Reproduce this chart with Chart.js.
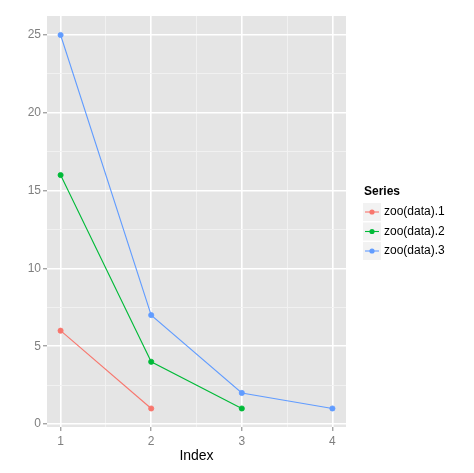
<!DOCTYPE html>
<html><head><meta charset="utf-8">
<script src="https://cdn.jsdelivr.net/npm/chart.js@4/dist/chart.umd.min.js"></script>
<style>html,body{margin:0;padding:0;background:#fff;}#wrap{width:474px;height:473px;}</style>
</head><body><div id="wrap"><canvas id="c" width="474" height="473"></canvas></div>
<script>
const index = [1, 2, 3, 4];
const seriesNames = ['zoo(data).1', 'zoo(data).2', 'zoo(data).3'];
const series1 = [6, 1, null, null];
const series2 = [16, 4, 1, null];
const series3 = [25, 7, 2, 1];
const seriesColors = ['#F8766D', '#00BA38', '#619CFF'];
const xTicks = [1, 2, 3, 4];
const yTicks = [0, 5, 10, 15, 20, 25];
const xTitle = 'Index';
const legendTitle = 'Series';

function withMinor(major) {
  const out = [];
  for (let i = 0; i < major.length; i++) {
    out.push(major[i]);
    if (i < major.length - 1) out.push((major[i] + major[i + 1]) / 2);
  }
  return out;
}
const isMajor = (list, v) => list.some(t => Math.abs(t - v) < 1e-9);

const FONT = '"Liberation Sans", Arial, sans-serif';
const allSeries = [series1, series2, series3];
const datasets = allSeries.map((s, k) => ({
  label: seriesNames[k],
  data: index.map((x, i) => ({x: x, y: s[i]})).filter(p => p.y !== null),
  borderColor: seriesColors[k],
  backgroundColor: seriesColors[k],
  pointBackgroundColor: seriesColors[k],
  pointBorderColor: seriesColors[k],
  borderWidth: 1.1,
  pointRadius: 2.6,
  pointBorderWidth: 0.8,
  tension: 0
}));

const panelBg = {
  id: 'panelBg',
  beforeDraw(chart) {
    const a = chart.chartArea, ctx = chart.ctx;
    ctx.save();
    ctx.fillStyle = '#E5E5E5';
    ctx.fillRect(a.left, a.top, a.right - a.left, a.bottom - a.top);
    ctx.restore();
  }
};

const ggLegend = {
  id: 'ggLegend',
  afterDraw(chart) {
    const ctx = chart.ctx;
    const x0 = 363, keyW = 18, keyH = 18;
    const titleY = 192;
    const rowY = [212, 231.5, 251];
    ctx.save();
    ctx.fillStyle = '#000';
    ctx.font = 'bold 12px ' + FONT;
    ctx.textBaseline = 'middle';
    ctx.textAlign = 'left';
    ctx.fillText(legendTitle, 364, titleY);
    chart.data.datasets.forEach((ds, i) => {
      const cy = rowY[i];
      ctx.fillStyle = '#F2F2F2';
      ctx.fillRect(x0, cy - keyH / 2, keyW, keyH);
      ctx.strokeStyle = ds.borderColor;
      ctx.lineWidth = 1.1;
      ctx.beginPath();
      ctx.moveTo(x0 + 2, cy);
      ctx.lineTo(x0 + keyW - 2, cy);
      ctx.stroke();
      ctx.fillStyle = ds.borderColor;
      ctx.beginPath();
      ctx.arc(x0 + keyW / 2, cy, 2.6, 0, Math.PI * 2);
      ctx.fill();
      ctx.fillStyle = '#000';
      ctx.font = '12px ' + FONT;
      ctx.fillText(ds.label, 384, cy);
    });
    ctx.restore();
  }
};

new Chart(document.getElementById('c'), {
  type: 'line',
  data: {datasets},
  options: {
    responsive: false,
    devicePixelRatio: 1,
    animation: false,
    layout: {padding: {left: 0, top: 16, right: 128, bottom: 0}},
    plugins: {legend: {display: false}, tooltip: {enabled: false}},
    scales: {
      x: {
        type: 'linear',
        min: 0.85, max: 4.15,
        afterBuildTicks(scale) { scale.ticks = withMinor(xTicks).map(v => ({value: v})); },
        afterFit(scale) { scale.height = 46; },
        border: {display: false},
        grid: {
          color: c => isMajor(xTicks, c.tick.value) ? '#FFFFFF' : '#F2F2F2',
          lineWidth: c => isMajor(xTicks, c.tick.value) ? 1.6 : 0.9,
          tickColor: c => isMajor(xTicks, c.tick.value) ? '#7F7F7F' : 'rgba(0,0,0,0)',
          tickLength: 4,
          tickWidth: 1
        },
        ticks: {
          autoSkip: false, maxRotation: 0, padding: 3,
          color: '#7F7F7F',
          font: {family: FONT, size: 12},
          callback: v => isMajor(xTicks, v) ? String(v) : ''
        },
        title: {display: true, text: xTitle, color: '#000', font: {family: FONT, size: 14}, padding: {top: 0, bottom: 8}}
      },
      y: {
        type: 'linear',
        min: -0.19, max: 26.22,
        afterBuildTicks(scale) { scale.ticks = withMinor(yTicks).map(v => ({value: v})); },
        afterFit(scale) { scale.width = 47; },
        border: {display: false},
        grid: {
          color: c => isMajor(yTicks, c.tick.value) ? '#FFFFFF' : '#F2F2F2',
          lineWidth: c => isMajor(yTicks, c.tick.value) ? 1.6 : 0.9,
          tickColor: c => isMajor(yTicks, c.tick.value) ? '#7F7F7F' : 'rgba(0,0,0,0)',
          tickLength: 4,
          tickWidth: 1
        },
        ticks: {
          autoSkip: false, padding: 2,
          color: '#7F7F7F',
          font: {family: FONT, size: 12},
          callback: v => isMajor(yTicks, v) ? String(v) : ''
        }
      }
    }
  },
  plugins: [panelBg, ggLegend]
});
</script>
</body></html>
